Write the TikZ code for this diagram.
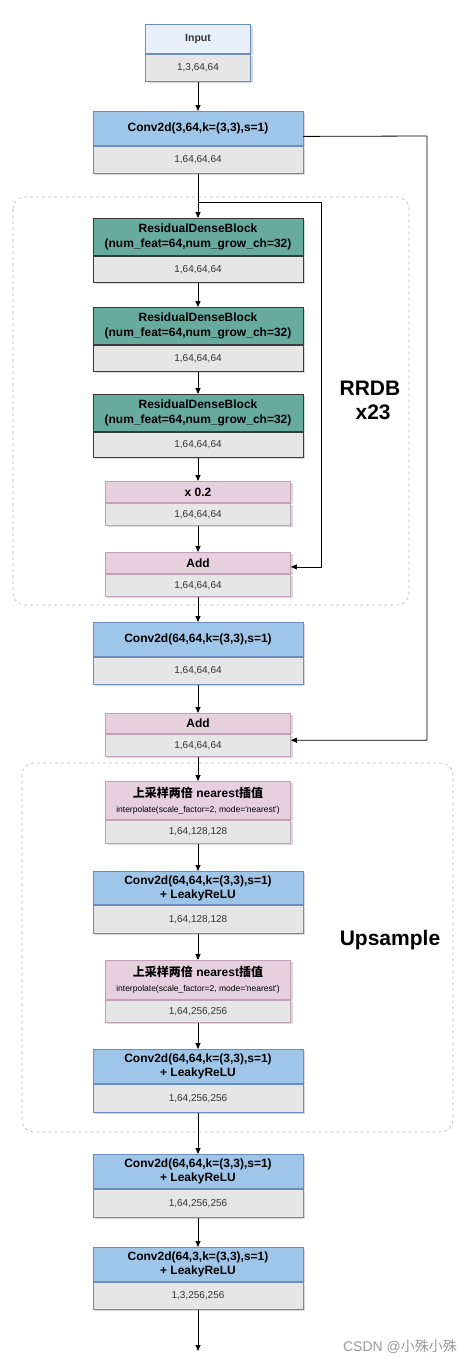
\documentclass[tikz,border=0pt]{standalone}
\usepackage{fontspec}
\setmainfont{Liberation Sans}
\newfontfamily\cjk{Noto Sans CJK SC}
\usetikzlibrary{arrows.meta,shadows,positioning}

\definecolor{inblue}{HTML}{E8F1FB}
\definecolor{convblue}{HTML}{9FC5E8}
\definecolor{convline}{HTML}{6C8EBF}
\definecolor{rdbgreen}{HTML}{67AB9F}
\definecolor{rdbline}{HTML}{3A3A3A}
\definecolor{pinkfill}{HTML}{E6D0DE}
\definecolor{pinkline}{HTML}{C3A0B7}
\definecolor{bodygray}{HTML}{E6E6E6}
\definecolor{textgray}{HTML}{333333}
\definecolor{framegray}{HTML}{B8B8B8}

\begin{document}
\begin{tikzpicture}[x=1pt,y=-1pt,
    arr/.style={-{Triangle[length=6pt,width=5pt]},line width=0.8pt},
    head/.style={draw,line width=0.8pt,anchor=north,align=center,inner sep=0pt,
                 font=\fontsize{12}{14}\selectfont\bfseries,
                 drop shadow={shadow xshift=2pt,shadow yshift=-2pt,opacity=0.3}},
    body/.style={head,fill=bodygray,text=textgray,font=\fontsize{10}{12}\selectfont},
    inhead/.style={head,fill=inblue,draw=convline,minimum width=105,
                   font=\fontsize{10.5}{12}\selectfont\bfseries,text=textgray},
    inbody/.style={body,draw=convline,minimum width=105},
    convhead/.style={head,fill=convblue,draw=convline,minimum width=210},
    convbody/.style={body,draw=convline,minimum width=210},
    rdbhead/.style={head,fill=rdbgreen,draw=rdbline,minimum width=210,
                    font=\fontsize{12}{15}\selectfont\bfseries},
    rdbbody/.style={body,draw=rdbline,minimum width=210},
    pinkhead/.style={head,fill=pinkfill,draw=pinkline,minimum width=185},
    pinkbody/.style={body,draw=pinkline,minimum width=185},
    frame/.style={draw=framegray,dashed,line width=0.6pt,rounded corners=12pt},
    biglabel/.style={align=center,font=\fontsize{21}{24}\selectfont\bfseries}]

  \useasboundingbox (0,0) rectangle (474,1363);

  % dashed groups
  \draw[frame] (13,197) rectangle (409,605);
  \draw[frame] (22,763) rectangle (453,1132);

  % input and first conv
  \node[inhead,minimum height=29] (in) at (198,24) {Input};
  \node[inbody,minimum height=27] (ins) at (in.south) {1,3,64,64};
  \node[convhead,minimum height=34] (conv1) at (198,111) {Conv2d(3,64,k=(3,3),s=1)};
  \node[convbody,minimum height=27] (conv1s) at (conv1.south) {1,64,64,64};

  % RRDB
  \node[rdbhead,minimum height=37] (rdb1) at (198,218) {ResidualDenseBlock\\(num\_feat=64,num\_grow\_ch=32)};
  \node[rdbbody,minimum height=26] (rdb1s) at (rdb1.south) {1,64,64,64};
  \node[rdbhead,minimum height=37] (rdb2) at (198,307) {ResidualDenseBlock\\(num\_feat=64,num\_grow\_ch=32)};
  \node[rdbbody,minimum height=26] (rdb2s) at (rdb2.south) {1,64,64,64};
  \node[rdbhead,minimum height=37] (rdb3) at (198,394) {ResidualDenseBlock\\(num\_feat=64,num\_grow\_ch=32)};
  \node[rdbbody,minimum height=25] (rdb3s) at (rdb3.south) {1,64,64,64};
  \node[pinkhead,minimum height=21] (mul) at (198,481) {x 0.2};
  \node[pinkbody,minimum height=22] (muls) at (mul.south) {1,64,64,64};
  \node[pinkhead,minimum height=21] (add1) at (198,552) {Add};
  \node[pinkbody,minimum height=22] (add1s) at (add1.south) {1,64,64,64};
  \node[biglabel] (rrdb) at (370,400) {RRDB\\\hspace*{0.3em}x23};

  \node[convhead,minimum height=34] (conv2) at (198,622) {Conv2d(64,64,k=(3,3),s=1)};
  \node[convbody,minimum height=27] (conv2s) at (conv2.south) {1,64,64,64};
  \node[pinkhead,minimum height=20] (add2) at (198,713) {Add};
  \node[pinkbody,minimum height=22] (add2s) at (add2.south) {1,64,64,64};

  % Upsample
  \node[pinkhead,minimum height=38] (up1) at (198,781) {{\cjk 上采样两倍} nearest{\cjk 插值}\\[1pt]
      {\mdseries\fontsize{8.5}{10}\selectfont interpolate(scale\_factor=2, mode=\textquotesingle nearest\textquotesingle)}};
  \node[pinkbody,minimum height=23] (up1s) at (up1.south) {1,64,128,128};
  \node[convhead,minimum height=33] (convu1) at (198,871) {Conv2d(64,64,k=(3,3),s=1)\\+ LeakyReLU};
  \node[convbody,minimum height=28] (convu1s) at (convu1.south) {1,64,128,128};
  \node[pinkhead,minimum height=39] (up2) at (198,960) {{\cjk 上采样两倍} nearest{\cjk 插值}\\[1pt]
      {\mdseries\fontsize{8.5}{10}\selectfont interpolate(scale\_factor=2, mode=\textquotesingle nearest\textquotesingle)}};
  \node[pinkbody,minimum height=22] (up2s) at (up2.south) {1,64,256,256};
  \node[convhead,minimum height=34] (convu2) at (198,1049) {Conv2d(64,64,k=(3,3),s=1)\\+ LeakyReLU};
  \node[convbody,minimum height=28] (convu2s) at (convu2.south) {1,64,256,256};
  \node[biglabel] (upl) at (390,940) {Upsample};

  % last convs
  \node[convhead,minimum height=34] (conv3) at (198,1154) {Conv2d(64,64,k=(3,3),s=1)\\+ LeakyReLU};
  \node[convbody,minimum height=28] (conv3s) at (conv3.south) {1,64,256,256};
  \node[convhead,minimum height=34] (conv4) at (198,1247) {Conv2d(64,3,k=(3,3),s=1)\\+ LeakyReLU};
  \node[convbody,minimum height=27] (conv4s) at (conv4.south) {1,3,256,256};
  \coordinate (out) at (198,1351);

  \node[text=black!40,font=\fontsize{14}{16}\selectfont] (mark) at (400,1347) {CSDN @{\cjk 小殊小殊}};

  % arrows
  \draw[arr] (ins.south) -- (conv1.north);
  \draw[arr] (conv1s.south) -- (rdb1.north);
  \draw[arr] (rdb1s.south) -- (rdb2.north);
  \draw[arr] (rdb2s.south) -- (rdb3.north);
  \draw[arr] (rdb3s.south) -- (mul.north);
  \draw[arr] (muls.south) -- (add1.north);
  \draw[arr] (add1s.south) -- (conv2.north);
  \draw[arr] (conv2s.south) -- (add2.north);
  \draw[arr] (add2s.south) -- (up1.north);
  \draw[arr] (up1s.south) -- (convu1.north);
  \draw[arr] (convu1s.south) -- (up2.north);
  \draw[arr] (up2s.south) -- (convu2.north);
  \draw[arr] (convu2s.south) -- (conv3.north);
  \draw[arr] (conv3s.south) -- (conv4.north);
  \draw[arr] (conv4s.south) -- (out);

  % skip connections
  \coordinate (fork) at (198,202);
  \draw[arr] (fork) -- (321,202) |- ([yshift=-4pt]add1.east);
  \draw[arr] ([yshift=-8pt]conv1.east) -- (427,136) |- ([yshift=5pt]add2s.east);
\end{tikzpicture}
\end{document}
